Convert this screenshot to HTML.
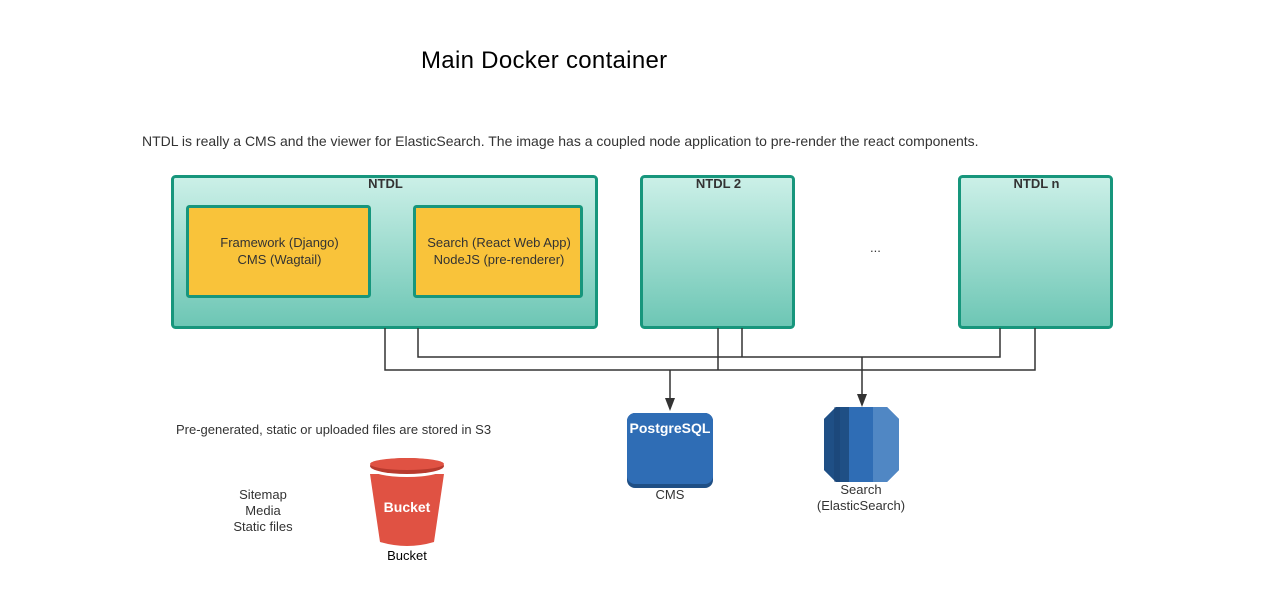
<!DOCTYPE html>
<html><head><style>
body{margin:0;width:1262px;height:589px;background:#fff;position:relative;font-family:"Liberation Sans",sans-serif;overflow:hidden}
.t{position:absolute;white-space:nowrap}
</style></head><body>
<svg width="1262" height="589" style="position:absolute;left:0;top:0">
<defs>
<linearGradient id="g" x1="0" y1="0" x2="0" y2="1"><stop offset="0" stop-color="#ccf0e8"/><stop offset="1" stop-color="#6cc6b4"/></linearGradient>
</defs>
<rect x="172.5" y="176.5" width="424" height="151" rx="3" fill="url(#g)" stroke="#17967c" stroke-width="3"/>
<rect x="641.5" y="176.5" width="152" height="151" rx="3" fill="url(#g)" stroke="#17967c" stroke-width="3"/>
<rect x="959.5" y="176.5" width="152" height="151" rx="3" fill="url(#g)" stroke="#17967c" stroke-width="3"/>
<rect x="187.5" y="206.5" width="182" height="90" rx="2" fill="#f9c33a" stroke="#17967c" stroke-width="3"/>
<rect x="414.5" y="206.5" width="167" height="90" rx="2" fill="#f9c33a" stroke="#17967c" stroke-width="3"/>
<g fill="none" stroke="#333" stroke-width="1.5">
<path d="M385,328 V370 H1035 V328"/>
<path d="M418,328 V357 H1000 V328"/>
<path d="M718,328 V370"/>
<path d="M742,328 V357"/>
<path d="M670,370 V400"/>
<path d="M862,357 V396"/>
</g>
<polygon points="665,398 675,398 670,411" fill="#333"/>
<polygon points="857,394 867,394 862,407" fill="#333"/>
<rect x="627" y="413" width="86" height="75" rx="8" fill="#1f4f85"/>
<rect x="627" y="413" width="86" height="71" rx="8" fill="#2f6db5"/>
<polygon points="836,407 887,407 899,419 899,470 887,482 836,482 824,470 824,419" fill="#2f6db5"/>
<polygon points="836,407 849,407 849,482 836,482 824,470 824,419" fill="#1f4f85"/>
<rect x="834" y="407" width="6" height="75" fill="#1a3f6b" opacity="0.4"/>
<polygon points="873,407 887,407 899,419 899,470 887,482 873,482" fill="#5087c4"/>
<path d="M370,474 L380,542 Q407,550 434,542 L444,474 Z" fill="#e05243"/>
<ellipse cx="407" cy="468" rx="38" ry="9" fill="#fff"/>
<ellipse cx="407" cy="466" rx="37" ry="8" fill="#b83a2e"/>
<ellipse cx="407" cy="464" rx="37" ry="6" fill="#e05243"/>
</svg>
<div class="t" style="left:421px;top:47px;font-size:24px;letter-spacing:0.3px;color:#000">Main Docker container</div>
<div class="t" style="left:142px;top:133px;font-size:14px;color:#333">NTDL is really a CMS and the viewer for ElasticSearch. The image has a coupled node application to pre-render the react components.</div>
<div class="t" style="left:172px;top:176px;width:427px;text-align:center;font-size:13px;font-weight:bold;color:#333">NTDL</div>
<div class="t" style="left:641px;top:176px;width:155px;text-align:center;font-size:13px;font-weight:bold;color:#333">NTDL 2</div>
<div class="t" style="left:959px;top:176px;width:155px;text-align:center;font-size:13px;font-weight:bold;color:#333">NTDL n</div>
<div class="t" style="left:187px;top:234px;width:185px;text-align:center;font-size:13px;color:#333;line-height:17px">Framework (Django)<br>CMS (Wagtail)</div>
<div class="t" style="left:414px;top:234px;width:170px;text-align:center;font-size:13px;color:#333;line-height:17px">Search (React Web App)<br>NodeJS (pre-renderer)</div>
<div class="t" style="left:870px;top:240px;font-size:13px;color:#333">...</div>
<div class="t" style="left:627px;top:420px;width:86px;text-align:center;font-size:14px;font-weight:bold;color:#fff">PostgreSQL</div>
<div class="t" style="left:627px;top:487px;width:86px;text-align:center;font-size:13px;color:#333">CMS</div>
<div class="t" style="left:800px;top:482px;width:122px;text-align:center;font-size:13px;color:#333;line-height:16px">Search<br>(ElasticSearch)</div>
<div class="t" style="left:176px;top:422px;font-size:13px;color:#333">Pre-generated, static or uploaded files are stored in S3</div>
<div class="t" style="left:213px;top:487px;width:100px;text-align:center;font-size:13px;color:#333;line-height:16px">Sitemap<br>Media<br>Static files</div>
<div class="t" style="left:370px;top:499px;width:74px;text-align:center;font-size:14px;font-weight:bold;color:#fff">Bucket</div>
<div class="t" style="left:370px;top:548px;width:74px;text-align:center;font-size:13px;color:#000">Bucket</div>
</body></html>
